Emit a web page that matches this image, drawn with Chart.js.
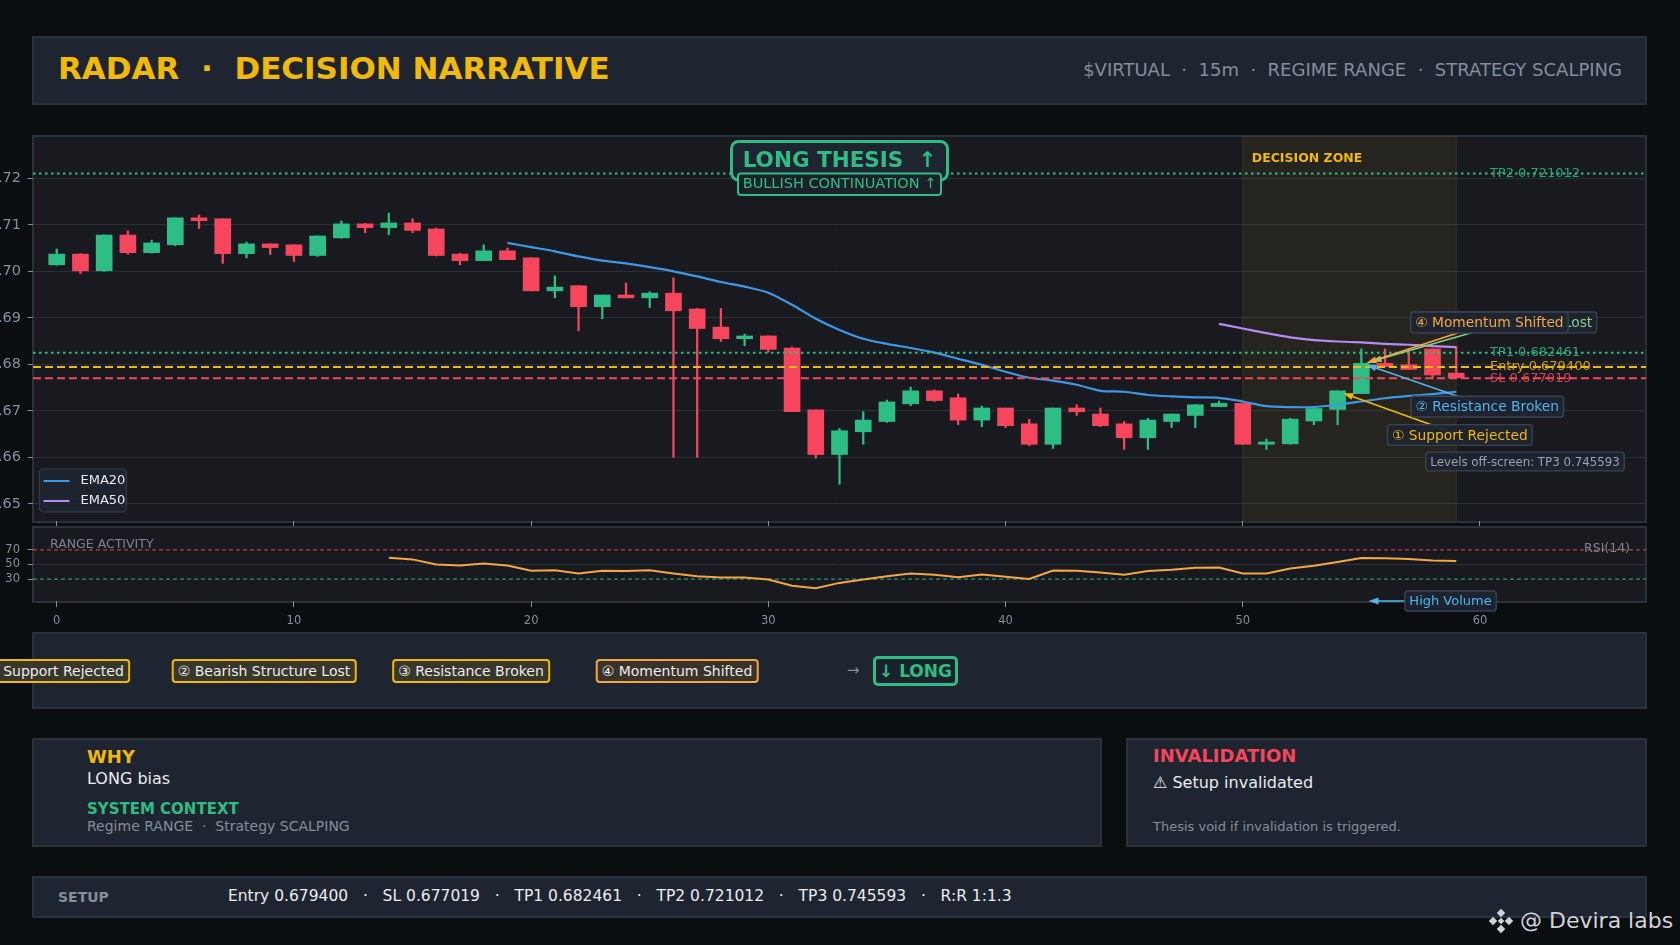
<!DOCTYPE html>
<html><head><meta charset="utf-8">
<script src="https://cdn.jsdelivr.net/npm/chart.js@4.4.1/dist/chart.umd.min.js"></script>
<style>
html,body{margin:0;padding:0;background:#0b0e11;width:1680px;height:945px;overflow:hidden;font-family:"DejaVu Sans",sans-serif;}
.panel{position:absolute;box-sizing:border-box;background:#1f2530;border:2px solid #2b3139;}
.cpanel{position:absolute;box-sizing:border-box;background:#181a20;border:2px solid #2b3139;}
.t{position:absolute;white-space:pre;line-height:1;transform:translateY(-50%);}
.chip{position:absolute;white-space:pre;transform:translate(-50%,-50%);box-sizing:border-box;height:24px;line-height:20px;padding:0 4px;border:2px solid #f0b90b;border-radius:4px;background:#39372a;color:#eaecef;font-size:14px;}
.cwrap{position:absolute;}
</style></head><body>

<div class="panel" style="left:32px;top:36px;width:1615px;height:69px;"></div>
<div class="t" style="left:58px;top:68px;font-size:31px;font-weight:bold;color:#f0b90b;">RADAR  ·  DECISION NARRATIVE</div>
<div class="t" style="right:58px;top:70px;font-size:18px;color:#848e9c;">$VIRTUAL  ·  15m  ·  REGIME RANGE  ·  STRATEGY SCALPING</div>

<div class="cpanel" style="left:32px;top:135px;width:1615px;height:388px;"></div>
<div class="cwrap" style="left:-50px;top:136px;width:1696px;height:392px;"><canvas id="price"></canvas></div>

<div class="cpanel" style="left:32px;top:526px;width:1615px;height:77px;"></div>
<div class="cwrap" style="left:-50px;top:528px;width:1696px;height:103px;"><canvas id="rsi"></canvas></div>

<div class="panel" style="left:32px;top:632px;width:1615px;height:77px;"></div>
<div class="chip" style="left:55px;top:671px;">① Support Rejected</div>
<div class="chip" style="left:264px;top:671px;">② Bearish Structure Lost</div>
<div class="chip" style="left:471px;top:671px;">③ Resistance Broken</div>
<div class="chip" style="left:677px;top:671px;border-color:#f5a742;background:#3b3229;">④ Momentum Shifted</div>
<div class="t" style="left:847px;top:670px;font-size:15px;color:#848e9c;">→</div>
<div style="position:absolute;left:873px;top:656px;width:85px;height:30px;box-sizing:border-box;border:3px solid #2ebd85;border-radius:5px;background:#1c222c;color:#2ebd85;font-weight:bold;font-size:17px;line-height:24px;text-align:center;white-space:pre;">↓ LONG</div>

<div class="panel" style="left:32px;top:738px;width:1070px;height:109px;"></div>
<div class="t" style="left:87px;top:757px;font-size:18px;font-weight:bold;color:#f0b90b;">WHY</div>
<div class="t" style="left:87px;top:779px;font-size:16px;color:#eaecef;">LONG bias</div>
<div class="t" style="left:87px;top:809px;font-size:15px;font-weight:bold;color:#2ebd85;">SYSTEM CONTEXT</div>
<div class="t" style="left:87px;top:826px;font-size:14px;color:#848e9c;">Regime RANGE  ·  Strategy SCALPING</div>

<div class="panel" style="left:1126px;top:738px;width:521px;height:109px;"></div>
<div class="t" style="left:1153px;top:756px;font-size:18px;font-weight:bold;color:#f6465d;">INVALIDATION</div>
<div class="t" style="left:1153px;top:783px;font-size:16px;color:#eaecef;">⚠ Setup invalidated</div>
<div class="t" style="left:1153px;top:826px;font-size:13px;color:#848e9c;">Thesis void if invalidation is triggered.</div>

<div class="panel" style="left:32px;top:876px;width:1615px;height:42px;"></div>
<div class="t" style="left:58px;top:897px;font-size:14px;font-weight:bold;color:#848e9c;">SETUP</div>
<div class="t" style="left:228px;top:897px;font-size:15.5px;color:#eaecef;">Entry 0.679400   ·   SL 0.677019   ·   TP1 0.682461   ·   TP2 0.721012   ·   TP3 0.745593   ·   R:R 1:1.3</div>

<div style="position:absolute;left:1486px;top:906px;width:30px;height:30px;">
<svg width="30" height="30" viewBox="0 0 32 32"><g fill="#cfd2d6"><path d="M16 3l4.5 4.5-4.5 4.5-4.5-4.5z"/><path d="M16 20l4.5 4.5-4.5 4.5-4.5-4.5z"/><path d="M3 16l4.5-4.5 4.5 4.5-4.5 4.5z"/><path d="M20 16l4.5-4.5 4.5 4.5-4.5 4.5z"/><path d="M16 12.5l3.5 3.5-3.5 3.5-3.5-3.5z"/></g></svg></div>
<div class="t" style="left:1520px;top:921px;font-size:22px;color:#d0d3d8;">@ Devira labs</div>

<script>
// ---------- data ----------
const candleIndex = Array.from({length: 60}, (_, i) => i);
const opens  = [0.7014,0.7037,0.7001,0.7078,0.7040,0.7057,0.7115,0.7113,0.7038,0.7059,
                0.7057,0.7034,0.7072,0.7102,0.7094,0.7104,0.7091,0.7037,0.7023,0.7044,
                0.7029,0.6958,0.6969,0.6924,0.6949,0.6943,0.6953,0.6919,0.6880,0.6855,
                0.6861,0.6835,0.6702,0.6606,0.6655,0.6677,0.6715,0.6743,0.6728,0.6680,
                0.6706,0.6672,0.6628,0.6706,0.6693,0.6672,0.6642,0.6677,0.6690,0.6709,
                0.6716,0.6628,0.6629,0.6678,0.6703,0.6737,0.6802,0.6799,0.6833,0.6781];
const highs  = [0.7048,0.7038,0.7078,0.7087,0.7067,0.7115,0.7121,0.7113,0.7063,0.7059,
                0.7057,0.7076,0.7108,0.7103,0.7125,0.7113,0.7093,0.7039,0.7057,0.7050,
                0.7029,0.6990,0.6969,0.6949,0.6975,0.6956,0.6986,0.6920,0.6920,0.6865,
                0.6861,0.6837,0.6702,0.6662,0.6698,0.6723,0.6751,0.6745,0.6736,0.6710,
                0.6706,0.6682,0.6706,0.6713,0.6706,0.6677,0.6684,0.6693,0.6713,0.6721,
                0.6716,0.6639,0.6684,0.6705,0.6743,0.6833,0.6833,0.6833,0.6833,0.6838];
const lows   = [0.7013,0.6995,0.7000,0.7037,0.7039,0.7055,0.7092,0.7017,0.7029,0.7036,
                0.7021,0.7032,0.7071,0.7083,0.7079,0.7083,0.7033,0.7014,0.7023,0.7025,
                0.6958,0.6943,0.6872,0.6898,0.6943,0.6922,0.6600,0.6600,0.6849,0.6840,
                0.6826,0.6698,0.6598,0.6542,0.6628,0.6675,0.6711,0.6720,0.6670,0.6666,
                0.6664,0.6625,0.6619,0.6690,0.6666,0.6617,0.6617,0.6664,0.6664,0.6709,
                0.6628,0.6617,0.6628,0.6670,0.6670,0.6737,0.6795,0.6789,0.6770,0.6771];
const closes = [0.7037,0.7001,0.7078,0.7040,0.7061,0.7115,0.7109,0.7038,0.7059,0.7051,
                0.7034,0.7076,0.7102,0.7094,0.7104,0.7088,0.7034,0.7023,0.7044,0.7025,
                0.6958,0.6966,0.6924,0.6949,0.6943,0.6953,0.6915,0.6877,0.6855,0.6861,
                0.6832,0.6698,0.6606,0.6657,0.6680,0.6719,0.6743,0.6722,0.6680,0.6706,
                0.6668,0.6628,0.6706,0.6698,0.6668,0.6642,0.6680,0.6693,0.6713,0.6716,
                0.6628,0.6633,0.6682,0.6705,0.6743,0.6802,0.6795,0.6789,0.6777,0.6771];

const ema20Start = 19;
const ema20 = [0.7061,0.7052,0.7043,0.7032,0.7023,0.7017,0.7009,0.7000,0.6989,0.6977,
               0.6967,0.6954,0.6928,0.6898,0.6874,0.6855,0.6844,0.6835,0.6825,0.6812,
               0.6799,0.6784,0.6771,0.6765,0.6756,0.6743,0.6741,0.6734,0.6731,0.6729,
               0.6728,0.6720,0.6710,0.6708,0.6708,0.6713,0.6720,0.6727,0.6732,0.6736,0.6741];
const ema50Start = 49;
const ema50 = [0.6887,0.6877,0.6867,0.6858,0.6852,0.6849,0.6847,0.6844,0.6842,0.6839,0.6837];

const rsiStart = 14;
const rsi = [59.3,57.0,50.1,48.7,51.4,48.7,41.4,42.0,37.7,41.4,
             41.0,42.0,37.7,34.0,32.1,32.1,29.4,21.0,17.4,24.8,
             29.4,34.0,37.7,36.0,32.6,36.3,33.1,30.3,41.8,41.4,
             39.1,35.9,41.0,42.8,45.5,46.0,37.7,37.7,44.6,48.3,
             53.3,58.8,58.4,57.5,55.6,54.7];
const rsiBands = [70, 30];

const levelNames  = ['TP2', 'TP1', 'Entry', 'SL'];
const levelValues = [0.721012, 0.682461, 0.679400, 0.677019];

const decisionZone = [50, 59];

const annTexts   = ['① Support Rejected', '② Resistance Broken', '② Bearish Structure Lost', '④ Momentum Shifted'];
const annTargetX = [54.24, 55.22, 55.43, 55.22];
const annTargetY = [0.6738, 0.6799, 0.6806, 0.6803];
const annTextX   = [59.15, 60.31, 61.15, 60.40];
const annTextY   = [0.6648, 0.6709, 0.6890, 0.6890];

const volTargetX = 55.3, volTextX = 58.76;

// ---------- styles ----------
const GREEN = '#2ebd85', RED = '#f6465d', GOLD = '#f0b90b';
const TICK = '#848e9c';
const FONT = '"DejaVu Sans", sans-serif';
const levelStyle = {
  TP2:   {color: GREEN, dash: [2.5, 3.5]},
  TP1:   {color: GREEN, dash: [2.5, 3.5]},
  Entry: {color: GOLD,  dash: [8, 4]},
  SL:    {color: RED,   dash: [8, 4]}
};
const annColors = [GOLD, '#52b4ee', '#7fd18b', '#f5a742'];

function noPad(s) { s.paddingTop = 0; s.paddingBottom = 0; s.paddingLeft = 0; s.paddingRight = 0; }
function roundRect(ctx, x, y, w, h, r) {
  ctx.beginPath();
  ctx.moveTo(x + r, y);
  ctx.arcTo(x + w, y, x + w, y + h, r);
  ctx.arcTo(x + w, y + h, x, y + h, r);
  ctx.arcTo(x, y + h, x, y, r);
  ctx.arcTo(x, y, x + w, y, r);
  ctx.closePath();
}
function arrow(ctx, x1, y1, x2, y2, color) {
  const ang = Math.atan2(y2 - y1, x2 - x1);
  ctx.save();
  ctx.strokeStyle = color; ctx.fillStyle = color; ctx.lineWidth = 1.6; ctx.setLineDash([]);
  ctx.beginPath(); ctx.moveTo(x1, y1); ctx.lineTo(x2 - 6 * Math.cos(ang), y2 - 6 * Math.sin(ang)); ctx.stroke();
  ctx.beginPath();
  ctx.moveTo(x2, y2);
  ctx.lineTo(x2 - 10 * Math.cos(ang) + 3.5 * Math.sin(ang), y2 - 10 * Math.sin(ang) - 3.5 * Math.cos(ang));
  ctx.lineTo(x2 - 10 * Math.cos(ang) - 3.5 * Math.sin(ang), y2 - 10 * Math.sin(ang) + 3.5 * Math.cos(ang));
  ctx.closePath(); ctx.fill();
  ctx.restore();
}
function labelBox(ctx, text, cx, cy, color, size) {
  ctx.save();
  ctx.font = size + 'px ' + FONT;
  const w = ctx.measureText(text).width + 9, h = size + 7;
  roundRect(ctx, cx - w / 2, cy - h / 2, w, h, 3);
  ctx.fillStyle = 'rgba(31,37,48,0.95)'; ctx.fill();
  ctx.strokeStyle = '#3a4350'; ctx.lineWidth = 1.4; ctx.stroke();
  ctx.fillStyle = color; ctx.textAlign = 'center'; ctx.textBaseline = 'middle';
  ctx.fillText(text, cx, cy + 1);
  ctx.restore();
}

// ---------- price chart ----------
const candleColors = candleIndex.map(i => closes[i] >= opens[i] ? GREEN : RED);
const bodyData = candleIndex.map(i => ({x: i, y: [opens[i], closes[i]]}));
const wickData = candleIndex.map(i => ({x: i, y: [lows[i], highs[i]]}));
const ema20Data = ema20.map((v, k) => ({x: ema20Start + k, y: v}));
const ema50Data = ema50.map((v, k) => ({x: ema50Start + k, y: v}));

const pricePlugin = {
  id: 'pricePlugin',
  beforeDatasetsDraw(chart) {
    const {ctx, chartArea: a, scales: {x}} = chart;
    const x0 = x.getPixelForValue(decisionZone[0]), x1 = x.getPixelForValue(decisionZone[1]);
    ctx.save();
    ctx.fillStyle = 'rgba(240,185,11,0.065)';
    ctx.fillRect(x0, a.top, x1 - x0, a.bottom - a.top);
    ctx.strokeStyle = 'rgba(240,185,11,0.13)'; ctx.lineWidth = 1;
    ctx.beginPath(); ctx.moveTo(x0, a.top); ctx.lineTo(x0, a.bottom); ctx.moveTo(x1, a.top); ctx.lineTo(x1, a.bottom); ctx.stroke();
    ctx.restore();
  },
  afterDatasetsDraw(chart) {
    const {ctx, chartArea: a, scales: {x, y}} = chart;
    ctx.save();
    levelNames.forEach((n, k) => {
      const py = y.getPixelForValue(levelValues[k]);
      const st = levelStyle[n];
      ctx.strokeStyle = st.color; ctx.lineWidth = 2; ctx.setLineDash(st.dash);
      ctx.beginPath(); ctx.moveTo(a.left, py); ctx.lineTo(a.right, py); ctx.stroke();
    });
    ctx.setLineDash([]);
    ctx.font = '13px ' + FONT; ctx.textBaseline = 'middle'; ctx.textAlign = 'left';
    levelNames.forEach((n, k) => {
      const py = y.getPixelForValue(levelValues[k]);
      ctx.fillStyle = levelStyle[n].color;
      ctx.globalAlpha = 0.85;
      ctx.fillText(n + ' ' + levelValues[k].toFixed(6), x.getPixelForValue(60.42), py);
    });
    ctx.globalAlpha = 1;
    ctx.font = 'bold 12.5px ' + FONT; ctx.fillStyle = GOLD; ctx.textBaseline = 'middle';
    ctx.fillText('DECISION ZONE', x.getPixelForValue(decisionZone[0]) + 9, a.top + 23);
    annTexts.forEach((t, k) => {
      arrow(ctx, x.getPixelForValue(annTextX[k]), y.getPixelForValue(annTextY[k]),
            x.getPixelForValue(annTargetX[k]), y.getPixelForValue(annTargetY[k]), annColors[k]);
    });
    annTexts.forEach((t, k) => {
      labelBox(ctx, t, x.getPixelForValue(annTextX[k]), y.getPixelForValue(annTextY[k]), annColors[k], 13.8);
    });
    labelBox(ctx, 'Levels off-screen: TP3 0.745593', a.right - 121, a.bottom - 59.5, '#9aa3ae', 11.8);
    const cx = (a.left + a.right) / 2;
    roundRect(ctx, cx - 108, a.top + 5.5, 216, 38.5, 7);
    ctx.fillStyle = '#1e2530'; ctx.fill();
    ctx.strokeStyle = GREEN; ctx.lineWidth = 3; ctx.stroke();
    ctx.fillStyle = GREEN; ctx.font = 'bold 21.5px ' + FONT; ctx.textAlign = 'center'; ctx.textBaseline = 'middle';
    ctx.fillText('LONG THESIS  ↑', cx, a.top + 25.5);
    roundRect(ctx, cx - 101.5, a.top + 37.5, 203, 21.5, 3);
    ctx.fillStyle = '#1b2029'; ctx.fill();
    ctx.strokeStyle = GREEN; ctx.lineWidth = 2; ctx.stroke();
    ctx.fillStyle = GREEN; ctx.font = '14.5px ' + FONT;
    ctx.fillText('BULLISH CONTINUATION ↑', cx, a.top + 48.5);
    const lx = a.left + 6.5, ly = a.bottom - 52;
    roundRect(ctx, lx, ly, 87, 43, 4);
    ctx.fillStyle = 'rgba(31,37,48,0.92)'; ctx.fill();
    ctx.strokeStyle = '#343b46'; ctx.lineWidth = 1.2; ctx.stroke();
    chart.data.datasets.filter(d => d.type === 'line').forEach((d, k) => {
      const yy = ly + 12 + k * 20;
      ctx.strokeStyle = d.borderColor; ctx.lineWidth = 2;
      ctx.beginPath(); ctx.moveTo(lx + 4, yy); ctx.lineTo(lx + 30, yy); ctx.stroke();
      ctx.fillStyle = '#eaecef'; ctx.font = '13px ' + FONT; ctx.textAlign = 'left'; ctx.textBaseline = 'middle';
      ctx.fillText(d.label, lx + 41, yy);
    });
    ctx.restore();
  }
};

new Chart(document.getElementById('price'), {
  type: 'bar',
  data: {
    datasets: [
      {type: 'line', label: 'EMA20', data: ema20Data, borderColor: '#3f98e6', borderWidth: 2.2, pointRadius: 0, tension: 0.25, order: 1},
      {type: 'line', label: 'EMA50', data: ema50Data, borderColor: '#b48cf2', borderWidth: 2.2, pointRadius: 0, tension: 0.25, order: 1},
      {label: 'body', data: bodyData, backgroundColor: candleColors, barThickness: 16, grouped: false, minBarLength: 2, order: 2},
      {label: 'wick', data: wickData, backgroundColor: candleColors, barThickness: 1.6, grouped: false, order: 3}
    ]
  },
  options: {
    responsive: true, maintainAspectRatio: false, animation: false,
    layout: {padding: 0},
    plugins: {legend: {display: false}, tooltip: {enabled: false}},
    scales: {
      x: {
        type: 'linear', min: -1, max: 67, offset: false,
        ticks: {display: false, stepSize: 10, includeBounds: false},
        grid: {display: true, drawOnChartArea: false, drawTicks: true, tickLength: 6, tickColor: TICK, offset: false},
        border: {display: false},
        afterFit: s => { s.height = 7; noPad(s); }
      },
      y: {
        min: 0.6463, max: 0.7291,
        ticks: {stepSize: 0.01, includeBounds: false, color: TICK, font: {family: FONT, size: 14.5}, padding: 7,
                callback: v => v.toFixed(2)},
        grid: {color: '#2a2e35', tickLength: 5, tickColor: TICK},
        border: {display: false},
        afterFit: s => { s.width = 83; noPad(s); }
      }
    }
  },
  plugins: [pricePlugin]
});

// ---------- RSI chart ----------
const rsiData = rsi.map((v, k) => ({x: rsiStart + k, y: v}));
const rsiPlugin = {
  id: 'rsiPlugin',
  beforeDatasetsDraw(chart) {
    const {ctx, chartArea: a, scales: {y}} = chart;
    ctx.save(); ctx.lineWidth = 1.2; ctx.setLineDash([4, 3]);
    [['rgba(246,70,93,0.75)', rsiBands[0]], ['rgba(46,189,133,0.75)', rsiBands[1]]].forEach(([c, v]) => {
      ctx.strokeStyle = c; const py = y.getPixelForValue(v);
      ctx.beginPath(); ctx.moveTo(a.left, py); ctx.lineTo(a.right, py); ctx.stroke();
    });
    ctx.restore();
  },
  afterDraw(chart) {
    const {ctx, chartArea: a, scales: {x, y}} = chart;
    ctx.save();
    ctx.font = '12.5px ' + FONT; ctx.fillStyle = '#7d8590'; ctx.textBaseline = 'middle';
    ctx.textAlign = 'left'; ctx.fillText('RANGE ACTIVITY', a.left + 17, a.top + 17);
    ctx.textAlign = 'right'; ctx.fillText('RSI(14)', a.right - 16, a.top + 21);
    const py = y.getPixelForValue(0);
    arrow(ctx, x.getPixelForValue(volTextX), py, x.getPixelForValue(volTargetX), py, '#52b4ee');
    labelBox(ctx, 'High Volume', x.getPixelForValue(volTextX), py, '#52b4ee', 13);
    ctx.restore();
  }
};
new Chart(document.getElementById('rsi'), {
  type: 'line',
  data: {datasets: [{label: 'RSI', data: rsiData, borderColor: '#f5a742', borderWidth: 2, pointRadius: 0, tension: 0}]},
  options: {
    responsive: true, maintainAspectRatio: false, animation: false,
    layout: {padding: 0},
    plugins: {legend: {display: false}, tooltip: {enabled: false}},
    scales: {
      x: {
        type: 'linear', min: -1, max: 67,
        ticks: {stepSize: 10, includeBounds: false, color: TICK, font: {family: FONT, size: 11.5}, padding: 7, maxRotation: 0},
        grid: {display: true, drawOnChartArea: false, tickLength: 6, tickColor: TICK},
        border: {display: false},
        afterFit: s => { s.height = 30; noPad(s); }
      },
      y: {
        min: 0, max: 100,
        afterBuildTicks: s => { s.ticks = [{value: 30}, {value: 50}, {value: 70}]; },
        ticks: {color: TICK, font: {family: FONT, size: 11.5}, padding: 8},
        grid: {color: c => (c.tick && c.tick.value === 50) ? '#2b3139' : 'rgba(0,0,0,0)', tickLength: 5, tickColor: TICK},
        border: {display: false},
        afterFit: s => { s.width = 83; noPad(s); }
      }
    }
  },
  plugins: [rsiPlugin]
});
</script>
</body></html>
